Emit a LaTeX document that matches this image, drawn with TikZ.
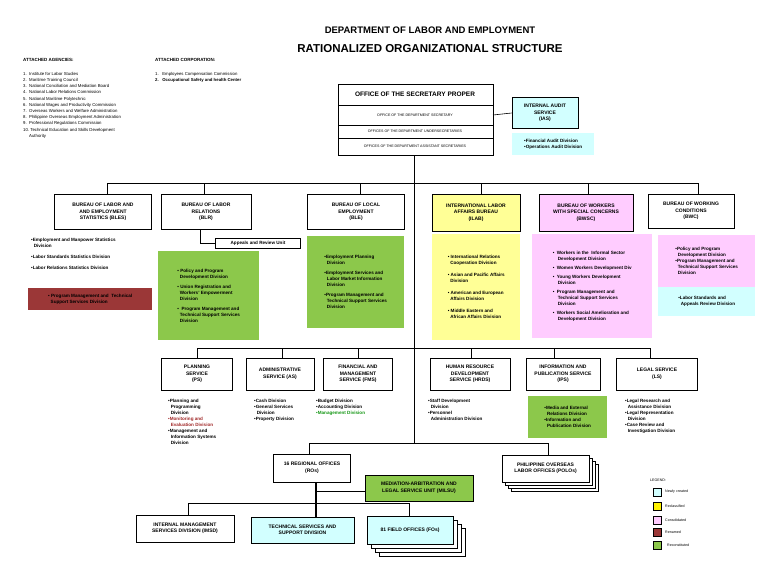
\documentclass[tikz,border=0pt]{standalone}
\usepackage{fontspec}
\setmainfont{Liberation Sans}
\definecolor{cnew}{RGB}{210,255,255}
\definecolor{cyel}{RGB}{255,255,150}
\definecolor{cpink}{RGB}{255,204,255}
\definecolor{cred}{RGB}{155,55,55}
\definecolor{cgreen}{RGB}{140,200,75}
\definecolor{cmon}{RGB}{160,40,40}
\definecolor{cmgt}{RGB}{20,150,20}
\begin{document}
\begin{tikzpicture}[x=1pt,y=-1pt,
  bx/.style={draw,line width=0.9pt,align=center,font=\fontsize{5}{6.5}\selectfont\bfseries,inner sep=1pt},
  lst/.style={align=left,anchor=north west,font=\fontsize{4.6}{6}\selectfont\bfseries,inner sep=0pt},
  sm/.style={font=\fontsize{4.3}{5.6}\selectfont,inner sep=0pt},
  ln/.style={line width=0.6pt},
  lg/.style={draw,line width=0.9pt,minimum size=8pt,inner sep=0pt}]
\useasboundingbox (0,0) rectangle (768,576);
% titles
\node[font=\fontsize{9.5}{11}\selectfont\bfseries] (t1) at (430,30) {DEPARTMENT OF LABOR AND EMPLOYMENT};
\node[font=\fontsize{11.5}{13}\selectfont\bfseries] (t2) at (430,49) {RATIONALIZED ORGANIZATIONAL STRUCTURE};
% attached
\node[sm,anchor=west,font=\fontsize{4.5}{5.6}\selectfont\bfseries] (aa) at (23,60) {ATTACHED AGENCIES:};
\node[sm,anchor=north west,align=left] (al) at (23,72) {1.\ \ Institute for Labor Studies\\[0.6pt]2.\ \ Maritime Training Council\\[0.6pt]3.\ \ National Conciliation and Mediation Board\\[0.6pt]4.\ \ National Labor Relations Commission\\[0.6pt]5.\ \ National Maritime Polytechnic\\[0.6pt]6.\ \ National Wages and Productivity Commission\\[0.6pt]7.\ \ Overseas Workers and Welfare Administration\\[0.6pt]8.\ \ Philippine Overseas Employment Administration\\[0.6pt]9.\ \ Professional Regulations Commission\\[0.6pt]10.\ Technical Education and Skills Development\\[0.6pt]\ \ \ \ \ Authority};
\node[sm,anchor=west,font=\fontsize{4.5}{5.6}\selectfont\bfseries] (ac) at (155,60) {ATTACHED CORPORATION:};
\node[sm,anchor=north west,align=left] (acl) at (155,72) {1.\ \ \ Employees Compensation Commission\\[0.6pt]\textbf{2.\ \ \ Occupational Safety and health Center}};
% OSP
\draw[line width=0.9pt] (338,84) rectangle (493,155);
\node[bx,draw=none,font=\fontsize{6.5}{8}\selectfont\bfseries] (osp) at (415,94) {OFFICE OF THE SECRETARY PROPER};
\draw[ln] (338,105) -- (493,105) (338,125)--(493,125) (338,138)--(493,138);
\node[sm,font=\fontsize{3.6}{4.5}\selectfont] (o1) at (415,115) {OFFICE OF THE DEPARTMENT SECRETARY};
\node[sm,font=\fontsize{3.6}{4.5}\selectfont] (o2) at (415,131.5) {OFFICES OF THE DEPARTMENT UNDERSECRETARIES};
\node[sm,font=\fontsize{3.6}{4.5}\selectfont] (o3) at (415,146.5) {OFFICES OF THE DEPARTMENT ASSISTANT SECRETARIES};
\coordinate (ospR) at (493,115);
\coordinate (ospB) at (414,155);
\node[bx,fill=cnew,minimum width=66pt,minimum height=31pt] (ias) at (545,113) {INTERNAL AUDIT\\SERVICE\\(IAS)};
\draw[ln] (ospR) -- (ias.west);
\node[lst,fill=cnew,minimum width=82pt,minimum height=22pt,inner sep=2pt,align=left] (iasl) at (512,133) {•Financial Audit Division\\•Operations Audit Division};
% top bar
\coordinate (b1) at (107,183); \coordinate (b2) at (698,183); \coordinate (tr) at (414,183);
\draw[ln] (b1) -- (b2);
\draw[ln] (ospB) -- (414,443);
% bureaus
\node[bx,minimum width=97pt,minimum height=35pt] (bles) at (103,212) {BUREAU OF LABOR AND\\AND EMPLOYMENT\\STATISTICS (BLES)};
\node[bx,minimum width=90pt,minimum height=35pt] (blr) at (206,212) {BUREAU OF LABOR\\RELATIONS\\(BLR)};
\node[bx,minimum width=97pt,minimum height=35pt] (ble) at (356,212) {BUREAU OF LOCAL\\EMPLOYMENT\\(BLE)};
\node[bx,fill=cyel,minimum width=88pt,minimum height=37pt] (ilab) at (476,212.5) {INTERNATIONAL LABOR\\AFFAIRS BUREAU\\(ILAB)};
\node[bx,fill=cpink,minimum width=94pt,minimum height=37pt] (bwsc) at (586,212.5) {BUREAU OF WORKERS\\WITH SPECIAL CONCERNS\\(BWSC)};
\node[bx,minimum width=86pt,minimum height=34pt] (bwc) at (691,211) {BUREAU OF WORKING\\CONDITIONS\\(BWC)};
\draw[ln] (107,183) -- (bles.north -| 107,0);
\draw[ln] (204,183) -- (blr.north -| 204,0);
\draw[ln] (360,183) -- (ble.north -| 360,0);
\draw[ln] (481,183) -- (ilab.north -| 481,0);
\draw[ln] (588,183) -- (bwsc.north -| 588,0);
\draw[ln] (698,183) -- (bwc.north -| 698,0);
% BLES list
\node[lst] (blesl) at (31,238) {•Employment and Manpower Statistics\\\ \ Division\\[5pt]•Labor Standards Statistics Division\\[5pt]•Labor Relations Statistics Division};
\node[lst,fill=cred,minimum width=124pt,minimum height=22pt,inner sep=3pt] (blesr) at (28,288) {• Program Management and \ Technical\\\ \ Support Services Division};
% BLR
\node[bx,line width=0.7pt,minimum width=85pt,minimum height=10pt,font=\fontsize{4.6}{5.5}\selectfont\bfseries] (aru) at (258,243) {Appeals and Review Unit};
\draw[ln] (blr.south -| 200,0) |- (aru.west);
\node[lst,fill=cgreen,minimum width=101pt,minimum height=89pt,inner sep=5pt] (blrl) at (158,251) {• Policy and Program\\\ \ Development Division\\[4pt]• Union Registration and\\\ \ Workers' Empowerment\\\ \ Division\\[4pt]• \ Program Management and\\\ \ Technical Support Services\\\ \ Division};
\node[lst,fill=cgreen,minimum width=97pt,minimum height=92pt,inner sep=5pt] (blel) at (307,236) {•Employment Planning\\\ \ Division\\[4pt]•Employment Services and\\\ \ Labor Market Information\\\ \ Division\\[4pt]•Program Management and\\\ \ Technical Support Services\\\ \ Division};
\node[lst,fill=cyel,minimum width=88pt,minimum height=106pt,inner sep=5pt] (ilabl) at (432,234) {• International Relations\\\ \ Cooperation Division\\[6pt]• Asian and Pacific Affairs\\\ \ Division\\[6pt]• American and European\\\ \ Affairs Division\\[6pt]• Middle Eastern and\\\ \ African Affairs Division};
\node[lst,fill=cpink,minimum width=120pt,minimum height=104pt,inner sep=5pt] (bwscl) at (532,234) {•\ \ Workers in the \ Informal Sector\\\ \ \ \ Development Division\\[3pt]•\ \ Women Workers Development Div\\[3pt]•\ \ Young Workers Development\\\ \ \ \ Division\\[3pt]•\ \ Program Management and\\\ \ \ \ Technical Support Services\\\ \ \ \ Division\\[3pt]•\ \ Workers Social Amelioration and\\\ \ \ \ Development Division};
\node[lst,fill=cpink,minimum width=97pt,minimum height=52pt,inner sep=5pt] (bwcl) at (658,235) {•Policy and Program\\\ \ Development Division\\•Program Management and\\\ \ Technical Support Services\\\ \ Division};
\node[lst,fill=cnew,minimum width=97pt,minimum height=29pt,inner sep=5pt] (bwcl2) at (658,287) {•Labor Standards and\\\ \ Appeals Review Division};
% second row
\draw[ln] (197,348) -- (650,348);
\node[bx,minimum width=71pt,minimum height=32pt] (ps) at (197,374) {PLANNING\\SERVICE\\(PS)};
\node[bx,minimum width=68pt,minimum height=32pt] (as) at (280,374) {ADMINISTRATIVE\\SERVICE (AS)};
\node[bx,minimum width=69pt,minimum height=32pt] (fms) at (358,374) {FINANCIAL AND\\MANAGEMENT\\SERVICE (FMS)};
\node[bx,minimum width=80pt,minimum height=32pt] (hrds) at (470,374) {HUMAN RESOURCE\\DEVELOPMENT\\SERVICE (HRDS)};
\node[bx,minimum width=74pt,minimum height=32pt] (ips) at (563,374) {INFORMATION AND\\PUBLICATION SERVICE\\(IPS)};
\node[bx,minimum width=81pt,minimum height=32pt] (ls) at (657,374) {LEGAL SERVICE\\(LS)};
\draw[ln] (197,348) -- (ps.north);
\draw[ln] (282,348) -- (as.north -| 282,0);
\draw[ln] (358,348) -- (fms.north);
\draw[ln] (471,348) -- (hrds.north -| 471,0);
\draw[ln] (554,348) -- (ips.north -| 554,0);
\draw[ln] (650,348) -- (ls.north -| 650,0);
\node[lst] (psl) at (168,399) {•Planning and\\\ \ Programming\\\ \ Division\\\textcolor{cmon}{•Monitoring and}\\\textcolor{cmon}{\ \ Evaluation Division}\\•Management and\\\ \ Information Systems\\\ \ Division};
\node[lst] (asl) at (254,399) {•Cash Division\\•General Services\\\ \ Division\\•Property Division};
\node[lst] (fmsl) at (316,399) {•Budget Division\\•Accounting Division\\\textcolor{cmgt}{•Management Division}};
\node[lst] (hrdsl) at (428,399) {•Staff Development\\\ \ Division\\•Personnel\\\ \ Administration Division};
\node[lst,fill=cgreen,minimum width=79pt,minimum height=42pt,inner sep=4pt] (ipsl) at (528,396) {•Media and External\\\ \ Relations Division\\•Information and\\\ \ Publication Division};
\node[lst] (lsl) at (625,399) {•Legal Research and\\\ \ Assistance Division\\•Legal Representation\\\ \ Division\\•Case Review and\\\ \ Investigation Division};
% regional
\draw[ln] (309,443) -- (548,443);
\node[bx,minimum width=77pt,minimum height=28pt] (ro) at (312,468) {16 REGIONAL OFFICES\\(ROs)};
\draw[ln] (309,443) -- (ro.north -| 309,0);
\node[bx,fill=cgreen,minimum width=108pt,minimum height=26pt] (milsu) at (419,488) {MEDIATION-ARBITRATION AND\\LEGAL SERVICE UNIT (MILSU)};
\draw[ln] (316,491) -- (milsu.west |- 316,491);
\foreach \d in {9,6,3}{\draw[line width=0.9pt,fill=white] (502+\d,455+\d) rectangle (589+\d,482+\d);}
\node[bx,fill=white,minimum width=87pt,minimum height=27pt] (polo) at (545.5,468.5) {PHILIPPINE OVERSEAS\\LABOR OFFICES (POLOs)};
\draw[ln] (548,443) -- (polo.north -| 548,0);
\draw[ln] (188,503) -- (409,503);
\node[bx,minimum width=98pt,minimum height=27pt] (imsd) at (185,528.5) {INTERNAL MANAGEMENT\\SERVICES DIVISION (IMSD)};
\node[bx,fill=cnew,minimum width=103pt,minimum height=26pt] (tssd) at (302.5,530) {TECHNICAL SERVICES AND\\SUPPORT DIVISION};
\foreach \d in {12,8,4}{\draw[line width=0.9pt,fill=white] (367+\d,516+\d) rectangle (453+\d,544+\d);}
\node[bx,fill=cnew,minimum width=86pt,minimum height=28pt] (fo) at (410,530) {81 FIELD OFFICES (FOs)};
\draw[line width=1.3pt] (ro.south -| 316,0) -- (tssd.north -| 316,0);
\draw[ln] (188,503) -- (imsd.north -| 188,0);
\draw[ln] (409,503) -- (fo.north -| 409,0);
% legend
\node[sm,anchor=west,font=\fontsize{3.6}{4.5}\selectfont] (leg) at (650,480) {LEGEND:};
\node[lg,fill=cnew] (l1) at (657,492) {}; \node[sm,anchor=west,font=\fontsize{3.6}{4.5}\selectfont] at (665,492) {Newly created};
\node[lg,fill=yellow] (l2) at (657,506) {}; \node[sm,anchor=west,font=\fontsize{3.6}{4.5}\selectfont] at (665,506) {Reclassified};
\node[lg,fill=cpink] (l3) at (657,520) {}; \node[sm,anchor=west,font=\fontsize{3.6}{4.5}\selectfont] at (665,520) {Consolidated};
\node[lg,fill=cred] (l4) at (657,532) {}; \node[sm,anchor=west,font=\fontsize{3.6}{4.5}\selectfont] at (665,532) {Renamed};
\node[lg,fill=cgreen] (l5) at (657,545) {}; \node[sm,anchor=west,font=\fontsize{3.6}{4.5}\selectfont] at (667,545) {Reconstituted};
\end{tikzpicture}
\end{document}
